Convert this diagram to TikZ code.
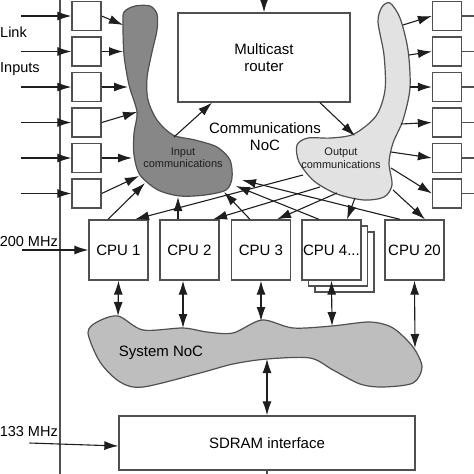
\documentclass[tikz,border=0pt]{standalone}
\usepackage{fontspec}
\setmainfont{Liberation Sans}
\usetikzlibrary{arrows.meta}
\definecolor{linegray}{RGB}{80,80,80}
\definecolor{arrowgray}{RGB}{30,30,30}
\definecolor{inblob}{RGB}{135,135,135}
\definecolor{outblob}{RGB}{226,226,226}
\definecolor{nocblob}{RGB}{190,190,190}
\newcommand\boxfont{\fontsize{15}{17}\selectfont}
\newcommand\sidefont{\fontsize{14.5}{16}\selectfont}
\newcommand\blobfont{\fontsize{11}{12.5}\selectfont}
\begin{document}
\begin{tikzpicture}[x=1pt,y=-1pt,
  box/.style={draw=linegray,line width=1.3pt,fill=white,inner sep=0pt},
  port/.style={box,minimum width=29pt,minimum height=29pt},
  cpu/.style={box,minimum width=59pt,minimum height=60pt,font=\boxfont},
  arr/.style={draw=arrowgray,line width=1.1pt,-{Latex[length=14pt,width=9pt]}},
  darr/.style={draw=arrowgray,line width=1.1pt,{Latex[length=14pt,width=9pt]}-{Latex[length=14pt,width=9pt]}},
  wire/.style={draw=linegray,line width=1.2pt},
  blob/.style={draw=linegray,line width=1.2pt}]
\useasboundingbox (0,0) rectangle (474,474);

% chip edge
\draw[wire] (60,0) -- (60,474);

% blobs
\draw[blob,fill=inblob] plot[smooth cycle] coordinates {(124,12) (135,6) (150,6) (157,14) (157,30)
  (152,52) (147,78) (148,100) (157,120) (173,135) (195,140) (217,147) (230,160) (232,178)
  (226,190) (205,195) (180,196) (158,190) (140,175) (134,155) (134,133) (137,112) (129,85)
  (124,55) (123,25)};
\draw[blob,fill=outblob] plot[smooth cycle] coordinates {(390,3) (400,18) (408,50) (410,88)
  (403,120) (393,143) (389,163) (392,185) (384,197) (364,200) (337,194) (314,181) (299,162)
  (297,145) (308,138) (331,138) (354,134) (376,116) (385,90) (384,55) (378,22) (382,7)};
\draw[blob,fill=nocblob] plot[smooth cycle] coordinates {(118,316) (143,330) (183,328) (207,332)
  (233,333) (262,320) (293,328) (332,326) (370,322) (393,328) (413,347) (422,367) (413,383)
  (383,387) (360,384) (333,370) (310,358) (267,359) (233,364) (200,373) (143,387) (120,382)
  (100,362) (88,333) (97,322)};

% points on the blobs
\coordinate (ia1) at (123,25);
\coordinate (ia2) at (123,51.5);
\coordinate (ia3) at (128,87);
\coordinate (ia4) at (137,112);
\coordinate (ia5) at (132,158);
\coordinate (ia6) at (139,176);
\coordinate (ib1) at (145,183);
\coordinate (ib2) at (178,197);
\coordinate (ib3) at (224,192);
\coordinate (ib4) at (236,186);
\coordinate (ib5) at (242,180);
\coordinate (itor) at (174,137);
\coordinate (oa1) at (403,25);
\coordinate (oa2) at (409,55);
\coordinate (oa3) at (410,87);
\coordinate (oa4) at (401,124);
\coordinate (oa5) at (391,152);
\coordinate (oa6) at (391,168);
\coordinate (ob1) at (303,175);
\coordinate (ob2) at (320,187);
\coordinate (ob3) at (337,193);
\coordinate (ob4) at (355,198);
\coordinate (ob5) at (393,190);
\coordinate (rtoo) at (355,136);
\coordinate (n1) at (118,316);
\coordinate (n2) at (183,328);
\coordinate (n3) at (261,321);
\coordinate (n4) at (332,326);
\coordinate (n5) at (415,348);
\coordinate (n6) at (267,359);

% link ports
\node[port] (in1) at (86.5,16) {};
\node[port] (in2) at (86.5,51.5) {};
\node[port] (in3) at (86.5,87) {};
\node[port] (in4) at (86.5,122.5) {};
\node[port] (in5) at (86.5,158) {};
\node[port] (in6) at (86.5,193.5) {};
\node[port] (out1) at (447,16) {};
\node[port] (out2) at (447,51.5) {};
\node[port] (out3) at (447,87) {};
\node[port] (out4) at (447,122.5) {};
\node[port] (out5) at (447,158) {};
\node[port] (out6) at (447,193.5) {};

\node[box,minimum width=172pt,minimum height=89pt,align=center,font=\boxfont] (router) at (264,57.5) {Multicast\\router};

\node[cpu] (cpu1) at (118.5,250) {CPU 1};
\node[cpu] (cpu2) at (189.5,250) {CPU 2};
\node[cpu] (cpu3) at (261,250) {CPU 3};
\node[cpu] (cpu4c) at (344.5,262) {};
\node[cpu] (cpu4b) at (338,256) {};
\node[cpu] (cpu4) at (331.5,250) {CPU 4...};
\node[cpu] (cpu20) at (414.5,250) {CPU 20};

\node[box,minimum width=296pt,minimum height=54pt,font=\boxfont] (sdram) at (267,443) {SDRAM interface};

% texts
\node[anchor=west,font=\sidefont,inner sep=0pt] (link) at (0,32) {Link};
\node[anchor=west,font=\sidefont,inner sep=0pt] (inputs) at (0,69) {Inputs};
\node[anchor=east,font=\sidefont,inner sep=0pt] (clk1) at (58,242) {200 MHz};
\node[anchor=east,font=\sidefont,inner sep=0pt] (clk2) at (58,432) {133 MHz};
\node[align=center,font=\blobfont,text=arrowgray] (inlbl) at (183,158) {Input\\communications};
\node[align=center,font=\blobfont,text=arrowgray] (outlbl) at (341,158) {Output\\communications};
\node[align=center,font=\boxfont] (noclbl) at (265,137) {Communications\\NoC};
\node[font=\boxfont] (syslbl) at (161,353) {System NoC};

% inputs
\draw[arr] ([xshift=-50pt]in1.west) -- (in1.west);
\draw[arr] ([xshift=-50pt]in2.west) -- (in2.west);
\draw[arr] ([xshift=-50pt]in3.west) -- (in3.west);
\draw[arr] ([xshift=-50pt]in4.west) -- (in4.west);
\draw[arr] ([xshift=-50pt]in5.west) -- (in5.west);
\draw[arr] ([xshift=-50pt]in6.west) -- (in6.west);
\draw[arr] (in1.east) -- (ia1);
\draw[arr] (in2.east) -- (ia2);
\draw[arr] (in3.east) -- (ia3);
\draw[arr] (in4.east) -- (ia4);
\draw[arr] (in5.east) -- (ia5);
\draw[arr] (in6.east) -- (ia6);

% outputs
\draw[arr] (oa1) -- (out1.west);
\draw[arr] (oa2) -- (out2.west);
\draw[arr] (oa3) -- (out3.west);
\draw[arr] (oa4) -- (out4.west);
\draw[arr] (oa5) -- (out5.west);
\draw[arr] (oa6) -- (out6.west);
\draw[wire] (out1.east) -- ++(14,0);
\draw[wire] (out2.east) -- ++(14,0);
\draw[wire] (out3.east) -- ++(14,0);
\draw[wire] (out4.east) -- ++(14,0);
\draw[wire] (out5.east) -- ++(14,0);
\draw[wire] (out6.east) -- ++(14,0);

% router
\draw[arr] ([yshift=13pt]router.north) -- (router.north);
\draw[arr] (itor) -- ([xshift=-52pt]router.south);
\draw[arr] ([xshift=56pt]router.south) -- (rtoo);

% cpus to input side
\draw[arr] ([xshift=-10.5pt]cpu1.north) -- (ib1);
\draw[arr] ([xshift=-11.5pt]cpu2.north) -- (ib2);
\draw[arr] ([xshift=-11pt]cpu3.north) -- (ib3);
\draw[arr] ([xshift=-12.5pt]cpu4.north) -- (ib4);
\draw[arr] ([xshift=-14.5pt]cpu20.north) -- (ib5);

% output side to cpus
\draw[arr] (ob1) -- ([xshift=16.5pt]cpu1.north);
\draw[arr] (ob2) -- ([xshift=23.5pt]cpu2.north);
\draw[arr] (ob3) -- ([xshift=16pt]cpu3.north);
\draw[arr] (ob4) -- ([xshift=15.5pt]cpu4.north);
\draw[arr] (ob5) -- ([xshift=10.5pt]cpu20.north);

% system noc
\draw[darr] (cpu1.south) -- (n1);
\draw[darr] ([xshift=-6.5pt]cpu2.south) -- (n2);
\draw[darr] (cpu3.south) -- (n3);
\draw[darr] (cpu4.south) -- (n4);
\draw[darr] (cpu20.south) -- (n5);
\draw[darr] (n6) -- (sdram.north);

% clocks
\draw[arr] ([xshift=-66pt]cpu1.west) -- (cpu1.west);
\draw[arr] ([xshift=-89pt]sdram.west) -- ([yshift=-3pt]sdram.west);
\draw[wire] (sdram.south) -- ([yshift=-6pt]sdram.south);
\end{tikzpicture}
\end{document}
